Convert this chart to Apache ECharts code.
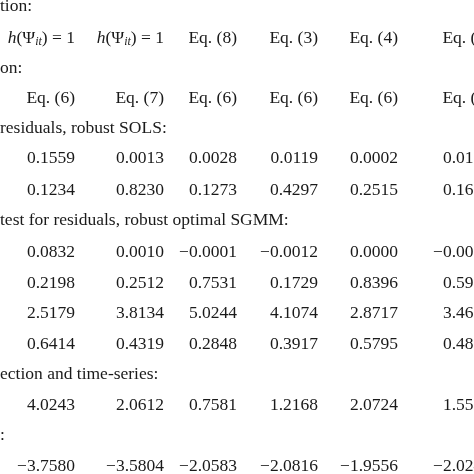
<!DOCTYPE html>
<html><head><meta charset="utf-8">
<script src="https://cdn.jsdelivr.net/npm/echarts@6/dist/echarts.min.js"></script>
<style>html,body{margin:0;padding:0;background:#fff}#c{width:474px;height:474px}</style>
</head><body><div id="c"></div>
<script>
const sectionLabels = ["tion:", "on:", "residuals, robust SOLS:", "test for residuals, robust optimal SGMM:", "ection and time-series:", ":"];
const specRow1 = ["{i|h}(Ψ{s|it}) = 1", "{i|h}(Ψ{s|it}) = 1", "Eq. (8)", "Eq. (3)", "Eq. (4)", "Eq. (6)"];
const specRow2 = ["Eq. (6)", "Eq. (7)", "Eq. (6)", "Eq. (6)", "Eq. (6)", "Eq. (6)"];
const solsStat = ["0.1559", "0.0013", "0.0028", "0.0119", "0.0002", "0.0124"];
const solsP = ["0.1234", "0.8230", "0.1273", "0.4297", "0.2515", "0.1652"];
const sgmmStat = ["0.0832", "0.0010", "−0.0001", "−0.0012", "0.0000", "−0.0003"];
const sgmmP = ["0.2198", "0.2512", "0.7531", "0.1729", "0.8396", "0.5912"];
const sgmmJ = ["2.5179", "3.8134", "5.0244", "4.1074", "2.8717", "3.4621"];
const sgmmJP = ["0.6414", "0.4319", "0.2848", "0.3917", "0.5795", "0.4836"];
const csts = ["4.0243", "2.0612", "0.7581", "1.2168", "2.0724", "1.5533"];
const lastRow = ["−3.7580", "−3.5804", "−2.0583", "−2.0816", "−1.9556", "−2.0241"];

const colRight = [75, 164, 237, 318, 398, 491];
const font = '"Liberation Serif", "DejaVu Serif", serif';
const fs = 17.5;
const color = '#1a1a1a';
const rich = {
  i: {fontStyle: 'italic', fontFamily: font, fontSize: fs, fill: color},
  s: {fontStyle: 'italic', fontFamily: font, fontSize: 12, fill: color, padding: [8, 0, 0, 0]}
};
const layout = [
  ['label', 0, 6], ['row', specRow1, 38], ['label', 1, 68], ['row', specRow2, 98],
  ['label', 2, 128], ['row', solsStat, 158], ['row', solsP, 190],
  ['label', 3, 220], ['row', sgmmStat, 252], ['row', sgmmP, 283], ['row', sgmmJ, 313], ['row', sgmmJP, 344],
  ['label', 4, 374], ['row', csts, 405], ['label', 5, 435], ['row', lastRow, 466]
];
const els = [];
layout.forEach(([kind, d, y]) => {
  if (kind === 'label') {
    els.push({type: 'text', x: 0, y: y, style: {text: sectionLabels[d], font: fs + 'px ' + font, fill: color, textAlign: 'left', textVerticalAlign: 'middle'}});
  } else {
    d.forEach((t, j) => {
      els.push({type: 'text', x: colRight[j], y: y, style: {text: t, rich: rich, font: fs + 'px ' + font, fill: color, textAlign: 'right', textVerticalAlign: 'middle'}});
    });
  }
});
const chart = echarts.init(document.getElementById('c'));
chart.setOption({backgroundColor: '#fff', graphic: {elements: els}});
</script></body></html>
